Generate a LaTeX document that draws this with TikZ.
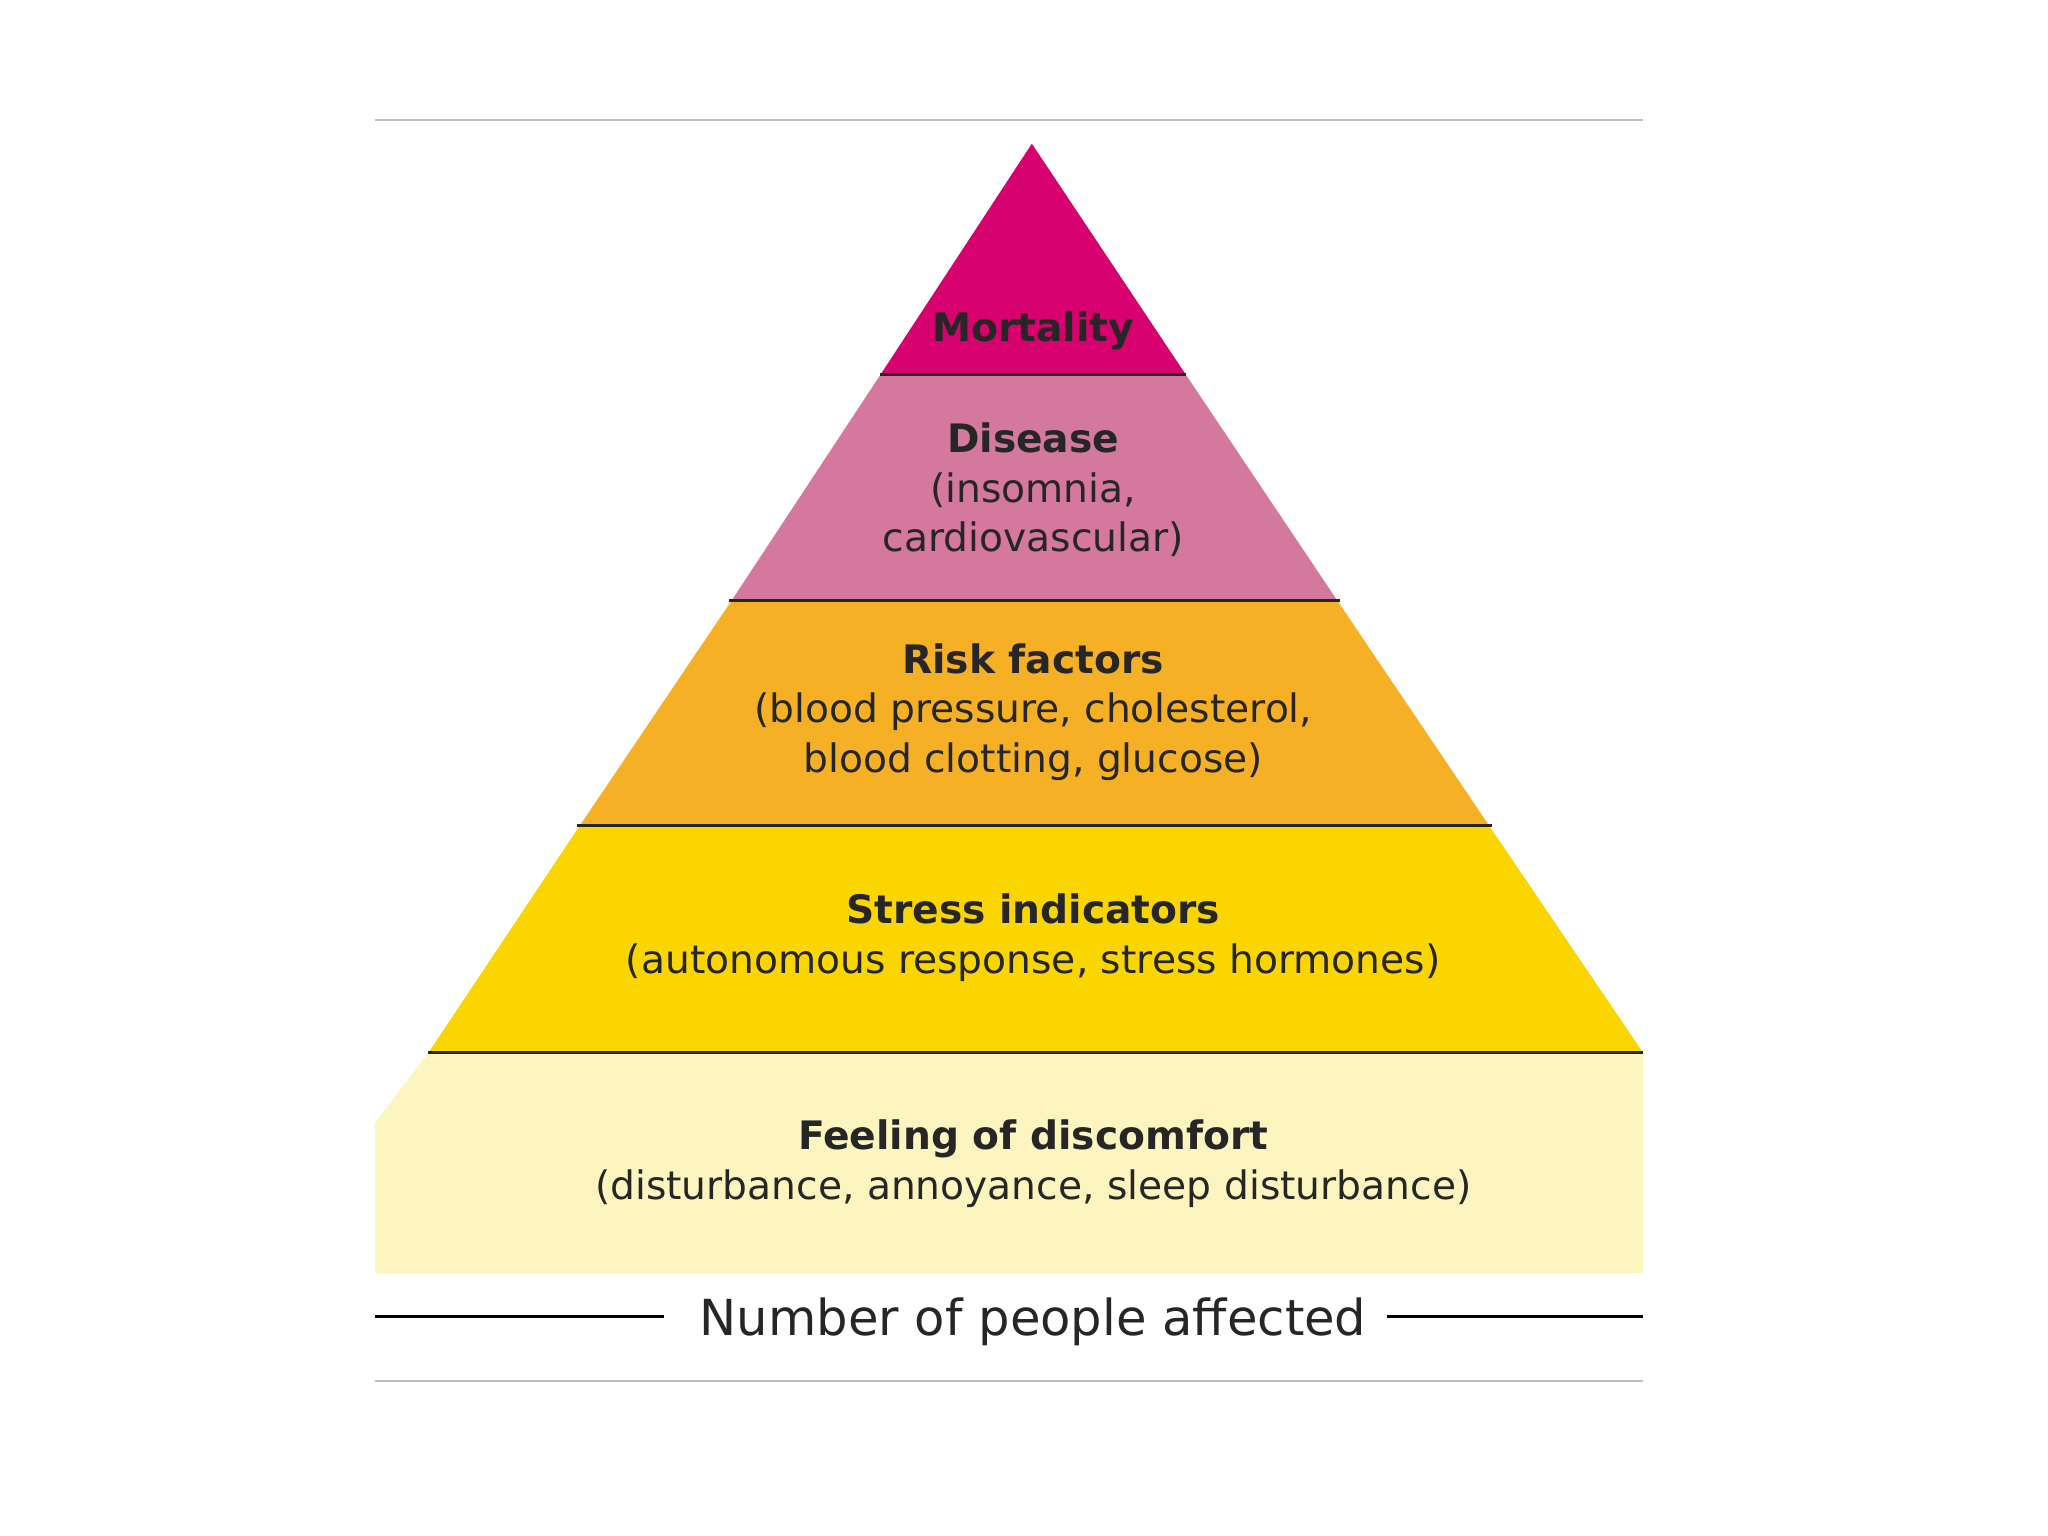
\documentclass[tikz,border=0pt]{standalone}
\usepackage{fontspec}
\setmainfont{DejaVu Sans}
\definecolor{cmort}{HTML}{D6006E}
\definecolor{cdis}{HTML}{D4789E}
\definecolor{crisk}{HTML}{F5B025}
\definecolor{cstress}{HTML}{FBD500}
\definecolor{cfeel}{HTML}{FDF5C0}
\begin{document}
\begin{tikzpicture}[x=0.5pt,y=-0.5pt,
  lbl/.style={align=center,font=\fontsize{15}{19}\selectfont,text=black!85},
  sep/.style={line width=1.2pt,black!85}]
\useasboundingbox (0,0) rectangle (1568,1176);
\fill[white] (0,0) rectangle (1568,1176);
\draw[gray!50,line width=0.8pt] (287,92) -- (1258,92);
\draw[gray!50,line width=0.8pt] (287,1057) -- (1258,1057);
% bands
\fill[cfeel] (328,806) -- (1258,806) -- (1258,975) -- (287,975) -- (287,860) -- cycle;
\fill[cstress] (444,632) -- (1140,632) -- (1258,806) -- (328,806) -- cycle;
\fill[crisk] (560,460) -- (1024,460) -- (1140,632) -- (444,632) -- cycle;
\fill[cdis] (674,287) -- (908,287) -- (1024,460) -- (560,460) -- cycle;
\fill[cmort] (790,110) -- (908,287) -- (674,287) -- cycle;
\draw[sep] (674,287) -- (908,287);
\draw[sep] (558,460) -- (1026,460);
\draw[sep] (442,632) -- (1142,632);
\draw[sep] (328,806) -- (1258,806);
\node[lbl,font=\bfseries\fontsize{15}{19}\selectfont] (mort) at (791,253) {Mortality};
\node[lbl] (dis) at (791,375) {\textbf{Disease}\\(insomnia,\\cardiovascular)};
\node[lbl] (risk) at (791,545) {\textbf{Risk factors}\\(blood pressure, cholesterol,\\blood clotting, glucose)};
\node[lbl] (stress) at (791,718) {\textbf{Stress indicators}\\(autonomous response, stress hormones)};
\node[lbl] (feel) at (791,891) {\textbf{Feeling of discomfort}\\(disturbance, annoyance, sleep disturbance)};
\node[font=\fontsize{19}{23}\selectfont,text=black!85,inner sep=2pt] (num) at (791,1012) {Number of people affected};
\coordinate (l) at (287,1008);
\coordinate (r) at (1258,1008);
\draw[line width=1.2pt] (l) -- (508,1008);
\draw[line width=1.2pt] (1062,1008) -- (r);
\end{tikzpicture}
\end{document}
